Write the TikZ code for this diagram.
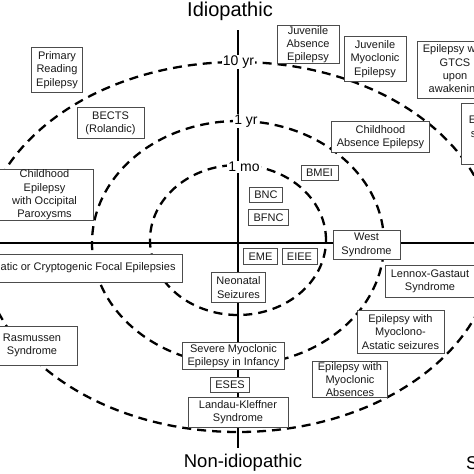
\documentclass[tikz,border=0pt]{standalone}
\usepackage{fontspec}
\setmainfont{Liberation Sans}
\usetikzlibrary{calc}

\begin{document}
\begin{tikzpicture}[x=1pt, y=-1pt, font=\fontsize{11}{13.3}\selectfont,
	syn/.style={draw=black!70, line width=0.9pt, fill=white, text=black!90, align=center, inner xsep=5pt, inner ysep=4pt},
	ring/.style={dash pattern=on 9pt off 6pt, line width=2.3pt},
	age/.style={fill=white, inner sep=1pt, font=\fontsize{14}{16}\selectfont},
	axis/.style={line width=2pt}]
	\useasboundingbox (0,0) rectangle (474,474);
	\clip (0,0) rectangle (474,474);
	\coordinate (O) at (238,243);

	% age rings
	\draw[ring]	($(O)+(0,4)$) ellipse [x radius=256pt, y radius=185pt];
	\draw[ring]	(O) ellipse [x radius=146pt, y radius=122pt];
	\draw[ring]	($(O)+(0,-3)$) ellipse [x radius=88pt, y radius=75pt];

	% axes
	\coordinate (top) at (238,30);
	\coordinate (bot) at (238,448);
	\coordinate (west) at (0,243);
	\coordinate (east) at (474,243);
	\draw[axis]	(top) -- (bot);
	\draw[axis]	(west) -- (east);

	\node[age] (tenyr) at (238.5,62) {10 yr};
	\node[age] (oneyr) at (246,121) {1 yr};
	\node[age] (onemo) at (244,167) {1 mo};

	% syndromes
	\node[syn] (pre) at (57,70) {Primary\\Reading\\Epilepsy};
	\node[syn, minimum width=67pt] (bects) at (110.5,123) {BECTS\\(Rolandic)};
	\node[syn, minimum width=97pt, inner ysep=0.5pt] (cep) at (44.5,195) {Childhood\\Epilepsy\\with Occipital\\Paroxysms};
	\node[syn, minimum width=62pt, inner ysep=0.5pt] (jae) at (308,44.5) {Juvenile\\Absence\\Epilepsy};
	\node[syn, minimum width=62pt] (jme) at (375,59) {Juvenile\\Myoclonic\\Epilepsy};
	\node[syn, minimum width=76pt, inner ysep=3pt] (gtcs) at (455,70) {Epilepsy with\\GTCS\\upon\\awakening};
	\node[syn, anchor=west, align=left, inner xsep=2pt, minimum width=30pt, minimum height=61pt] (spec) at (461,133.5) {Ep\\\hspace*{2pt}sp\\\hspace*{9pt}e};
	\node[syn] (cae) at (380.5,137) {Childhood\\Absence Epilepsy};
	\node[syn] (bmei) at (319.5,173) {BMEI};
	\node[syn] (bnc) at (266,195) {BNC};
	\node[syn] (bfnc) at (268.5,217.5) {BFNC};
	\node[syn] (eme) at (260.5,256.5) {EME};
	\node[syn] (eiee) at (299.5,256.5) {EIEE};
	\node[syn, minimum width=67pt, inner ysep=2.5pt] (west) at (366.5,245) {West\\Syndrome};
	\node[syn] (lgs) at (430,281.5) {Lennox-Gastaut\\Syndrome};
	\node[syn] (emas) at (400.5,332) {Epilepsy with\\Myoclono-\\Astatic seizures};
	\node[syn, inner ysep=1pt] (ema) at (350,379.5) {Epilepsy with\\Myoclonic\\Absences};
	\node[syn] (neo) at (238.5,287.5) {Neonatal\\Seizures};
	\node[syn, anchor=east, inner xsep=7pt, minimum height=28pt] (focal) at (183,268) {Symptomatic or Cryptogenic Focal Epilepsies};
	\node[syn, minimum width=90pt, minimum height=39pt] (ras) at (32,345.5) {Rasmussen\\Syndrome};
	\node[syn, inner ysep=1.5pt] (smei) at (233.5,356) {Severe Myoclonic\\Epilepsy in Infancy};
	\node[syn] (eses) at (230,385) {ESES};
	\node[syn, minimum width=100pt, inner ysep=3pt] (lks) at (238,412.5) {Landau-Kleffner\\Syndrome};

	% poles
	\node[font=\fontsize{20}{24}\selectfont] (idio) at (230,11) {Idiopathic};
	\node[font=\fontsize{18.5}{22}\selectfont] (nonidio) at (243,463) {Non-idiopathic};
	\node[anchor=west, inner sep=0pt, font=\fontsize{18.5}{22}\selectfont] (sym) at (466,463) {S};
\end{tikzpicture}
\end{document}
